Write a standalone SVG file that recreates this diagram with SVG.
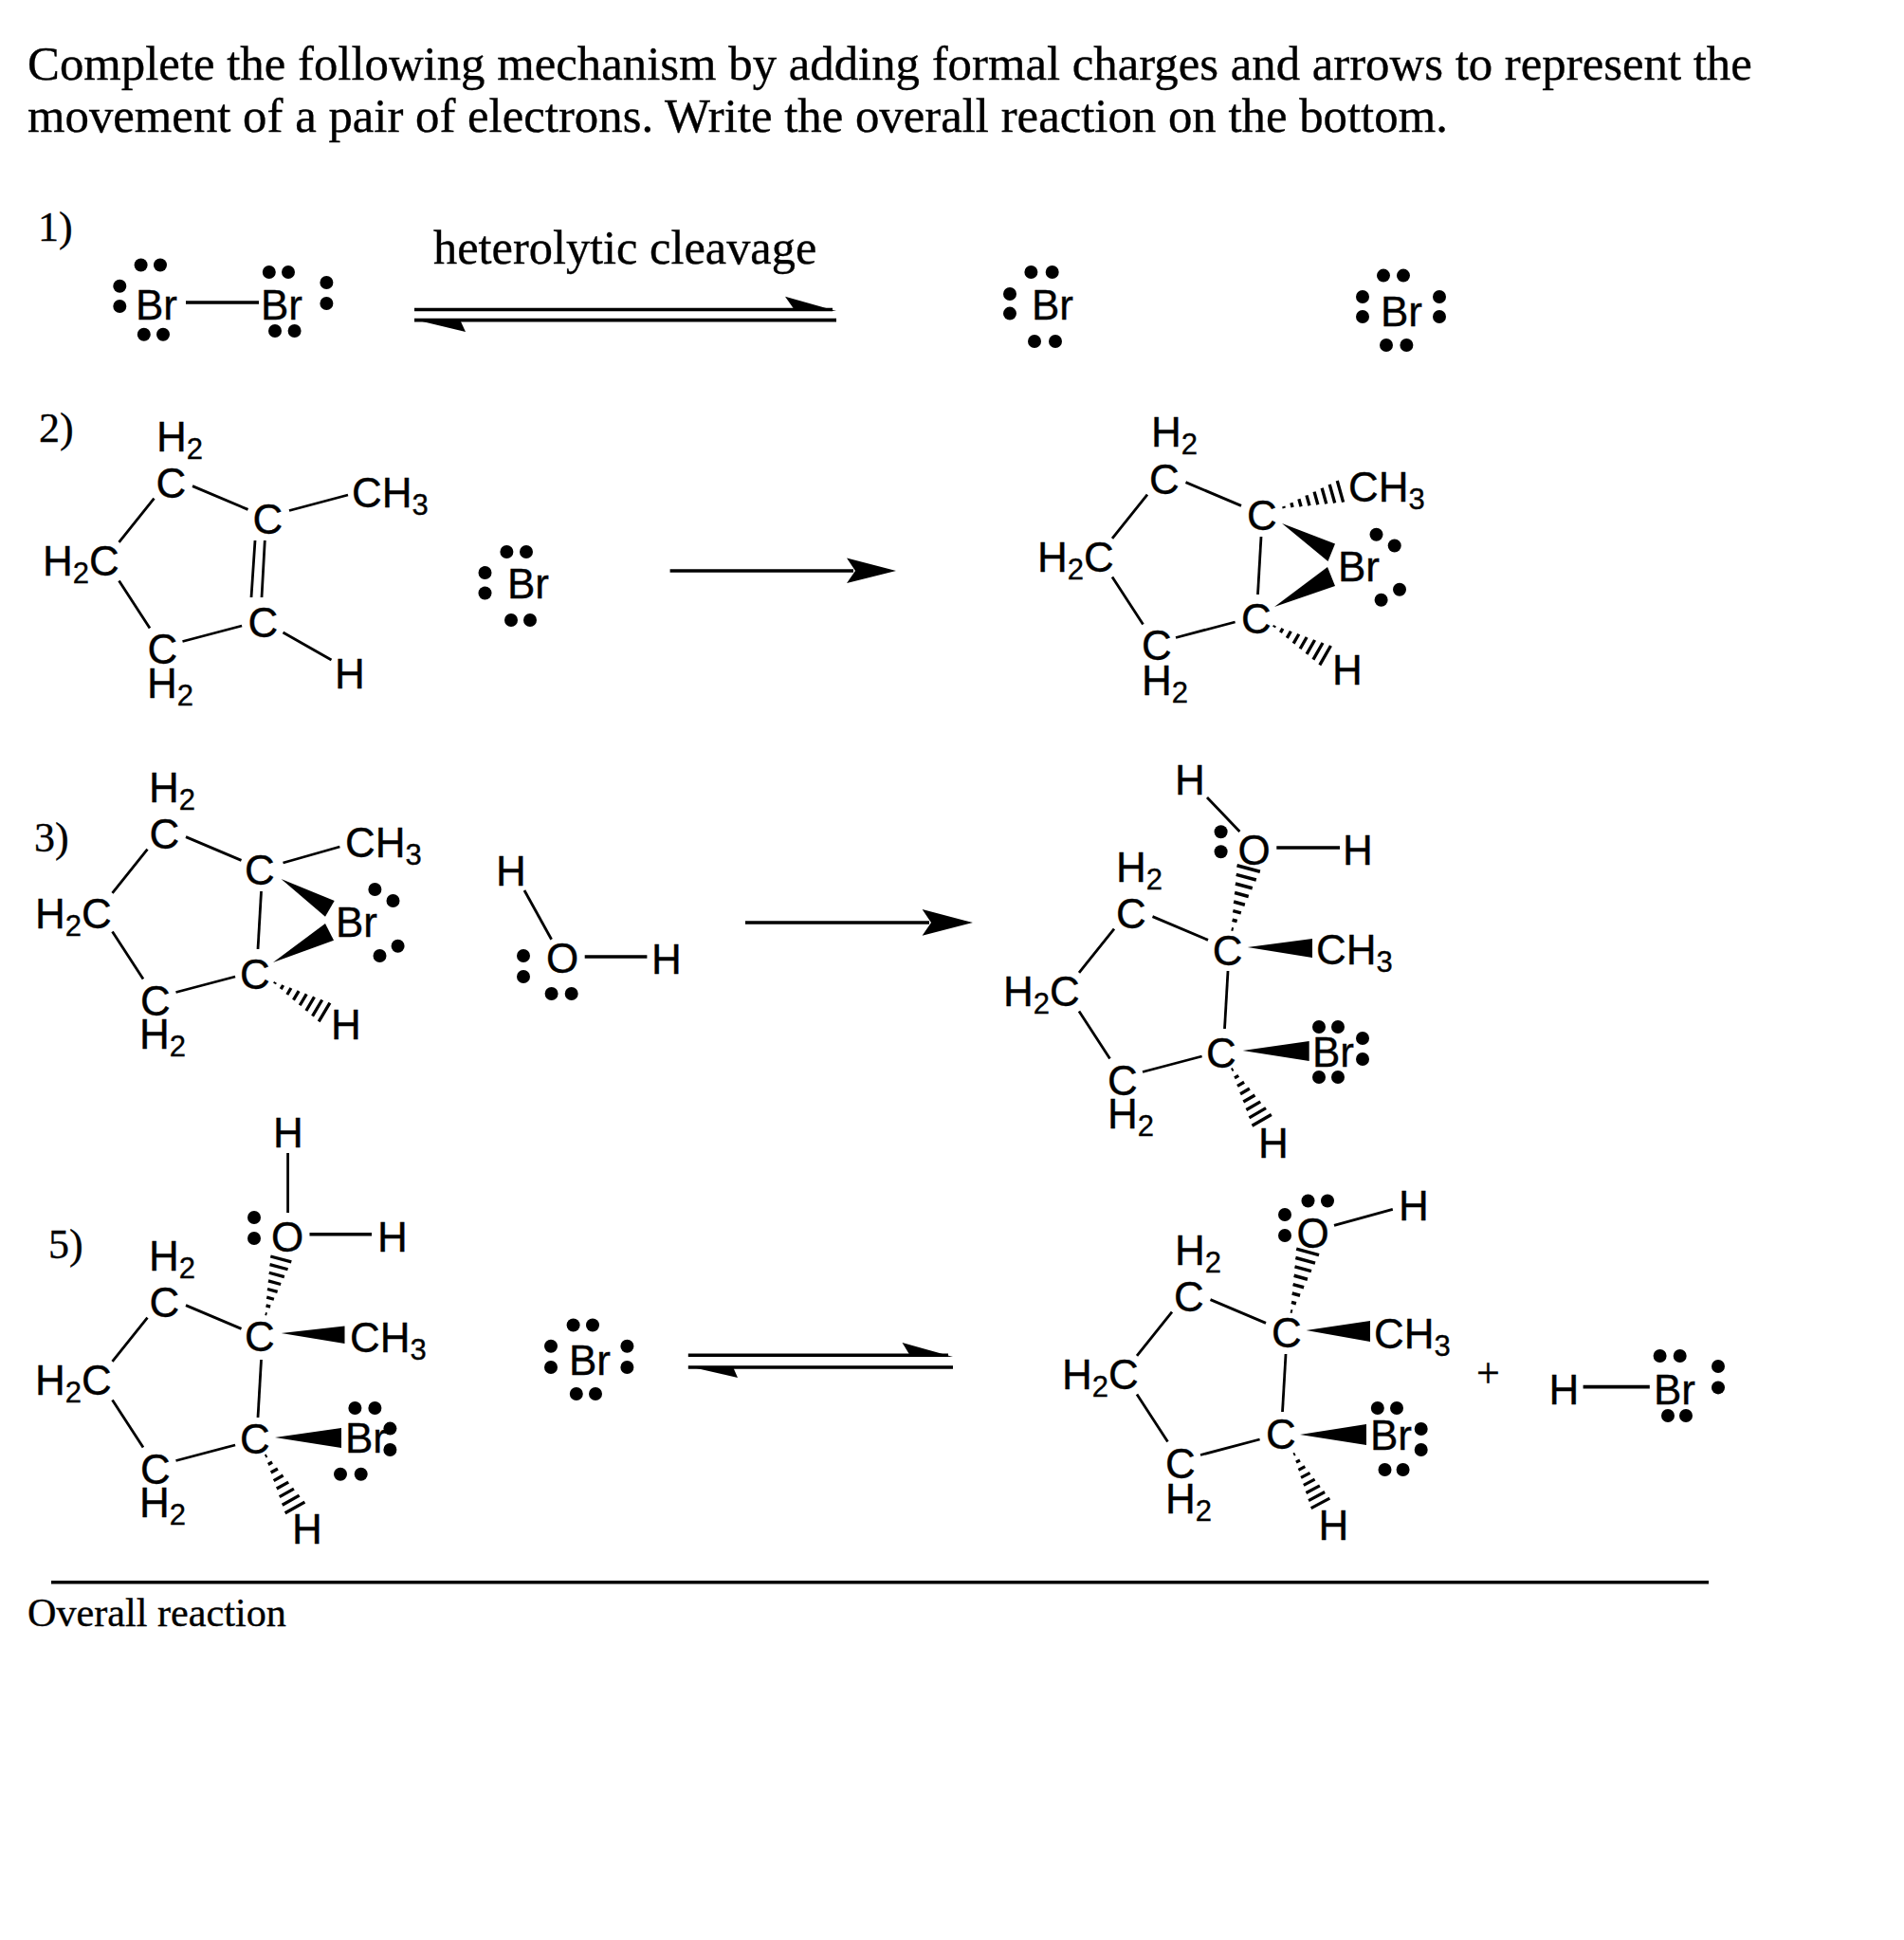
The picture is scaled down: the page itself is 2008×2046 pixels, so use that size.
<svg xmlns="http://www.w3.org/2000/svg" width="2008" height="2046" viewBox="0 0 2008 2046">
<style>
text{fill:#000;stroke:#000;stroke-width:.35}
.a{font-family:"Liberation Sans",Arial,sans-serif;font-size:44px}
.m{text-anchor:middle}
.s{font-size:31px}
.t{font-family:"Liberation Serif","Times New Roman",serif;font-size:50.8px}
.n{font-family:"Liberation Serif","Times New Roman",serif;font-size:44px}
.b{stroke:#000;stroke-width:2.8;fill:none}
.h{stroke:#000;stroke-width:3.6;fill:none}
.r{stroke:#000;stroke-width:3.4;fill:none}
.w{fill:#000;stroke:none}
.d{fill:#000}
</style>
<defs>
<g id="ring">
<path class="b" d="M22.5 2.6L81 27.4M-18 15.6L-55 61.8M-55 102.5L-22.5 152.5M12 166.5L74.6 150"/>
</g>
<path id="bond-e" class="b" d="M102 60L98.5 121"/>
<path id="hash" class="r" d="M0 -1V1M9 -2.5V2.5M18 -4.2V4.2M27 -5.8V5.8M36 -7.2V7.2M45 -8.8V8.8M54 -10.4V10.4M63 -12V12"/>
</defs>
<rect width="2008" height="2046" fill="#fff"/>

<g id="heading">
<text class="t" x="29" y="84">Complete the following mechanism by adding formal charges and arrows to represent the</text>
<text class="t" x="29" y="139">movement of a pair of electrons. Write the overall reaction on the bottom.</text>
<text class="n" x="40" y="254">1)</text>
<text class="n" x="41" y="466">2)</text>
<text class="n" x="36" y="898">3)</text>
<text class="n" x="51" y="1327">5)</text>
<text class="t" x="457" y="278" style="font-size:50.4px">heterolytic cleavage</text>
<text class="n" x="29" y="1715" style="font-size:42.2px">Overall reaction</text>
<text class="n m" x="1569.5" y="1463">+</text>
</g>

<g id="connectors">
<!-- ring bonds -->
<use href="#ring" transform="translate(180.5 510)"/>
<use href="#ring" transform="translate(1228 506)"/>
<use href="#bond-e" transform="translate(1228 506)"/>
<use href="#ring" transform="translate(173.5 880)"/>
<use href="#bond-e" transform="translate(173.5 880)"/>
<use href="#ring" transform="translate(1193 964)"/>
<use href="#bond-e" transform="translate(1193 964)"/>
<use href="#ring" transform="translate(173.5 1374)"/>
<use href="#bond-e" transform="translate(173.5 1374)"/>
<use href="#ring" transform="translate(1254 1368)"/>
<use href="#bond-e" transform="translate(1254 1368)"/>
<!-- single / double bonds -->
<path class="h" d="M196 319H273"/>
<path class="b" d="M279.3 570L276 630M269 570L265 630M305 538.5L367 522M298.5 667L349.5 696"/>
<path class="b" d="M298.5 910L358.4 893"/>
<path class="b" d="M553 939L581.6 990.7"/>
<path class="h" d="M616.7 1009H682.4M1346.3 894H1413M326.5 1301.7H392M1669.6 1462.6H1739.8"/>
<path class="b" d="M1273 841L1307.4 877M303.6 1216V1279M1407 1292.4L1468.8 1275.4"/>
<!-- wedges -->
<polygon class="w" points="1352,552 1408,573.6 1400.5,592"/>
<polygon class="w" points="1344,640 1408,618 1400,598"/>
<polygon class="w" points="296.5,927 352.7,950 343,966.7"/>
<polygon class="w" points="288,1015 352,991.7 343,974"/>
<polygon class="w" points="1315.7,999 1384,990 1384,1010"/>
<polygon class="w" points="1310.6,1108 1380.7,1098 1380.7,1119"/>
<polygon class="w" points="296.6,1406 363.5,1398.6 363.5,1417"/>
<polygon class="w" points="290,1516 360,1506 360,1527"/>
<polygon class="w" points="1377.5,1403 1445,1393 1445,1415"/>
<polygon class="w" points="1371,1513 1441,1502 1441,1524"/>
<!-- hashes -->
<use href="#hash" transform="translate(1354 535) rotate(-15.7) scale(.98)"/>
<use href="#hash" transform="translate(1344 660.6) rotate(29.7) scale(.98)"/>
<use href="#hash" transform="translate(290 1036.7) rotate(30.6) scale(.96)"/>
<use href="#hash" transform="translate(1299.7 980) rotate(-75.1) scale(1.05)"/>
<use href="#hash" transform="translate(1299.7 1128) rotate(59.9) scale(.98)"/>
<use href="#hash" transform="translate(280.6 1385.7) rotate(-74.8) scale(.95)"/>
<use href="#hash" transform="translate(280.6 1535.5) rotate(60.8) scale(.99)"/>
<use href="#hash" transform="translate(1362 1383) rotate(-74.7) scale(1.03)"/>
<use href="#hash" transform="translate(1365 1533.7) rotate(62) scale(.93)"/>
<!-- reaction arrows -->
<path class="h" d="M437 326.5H878M437 337.6H882"/>
<polygon class="w" points="882,328 828,312.7 838,327"/>
<polygon class="w" points="437,337 491,350 485,337"/>
<path class="h" d="M706.6 602H900"/>
<polygon class="w" points="945,602 893,588.5 902,602 893,615"/>
<path class="h" d="M786 973H980"/>
<polygon class="w" points="1026,973 972.6,959 982,973 972.6,986.7"/>
<path class="h" d="M725.8 1429.3H1000M725.8 1442H1005"/>
<polygon class="w" points="1005,1431 951.5,1416 960,1430"/>
<polygon class="w" points="728,1441.5 778,1453 773,1441.5"/>
<path class="h" d="M54 1668.7H1802"/>
</g>

<g id="br2-1">
<text class="a" x="143" y="337">Br</text>
<circle class="d" cx="148.6" cy="279.5" r="7"/><circle class="d" cx="169" cy="279.5" r="7"/>
<circle class="d" cx="126.3" cy="301.7" r="7"/><circle class="d" cx="126.3" cy="323" r="7"/>
<circle class="d" cx="151.8" cy="352.8" r="7"/><circle class="d" cx="172" cy="352.8" r="7"/>
</g>
<g id="br2-2">
<text class="a" x="275" y="337">Br</text>
<circle class="d" cx="283.8" cy="287" r="7"/><circle class="d" cx="304" cy="287" r="7"/>
<circle class="d" cx="344.4" cy="298" r="7"/><circle class="d" cx="344.4" cy="320" r="7"/>
<circle class="d" cx="290" cy="349" r="7"/><circle class="d" cx="310.6" cy="349" r="7"/>
</g>
<g id="br-cation">
<text class="a" x="1088" y="337">Br</text>
<circle class="d" cx="1087.4" cy="287" r="7"/><circle class="d" cx="1109.7" cy="287" r="7"/>
<circle class="d" cx="1065" cy="310" r="7"/><circle class="d" cx="1065" cy="330.6" r="7"/>
<circle class="d" cx="1091" cy="360" r="7"/><circle class="d" cx="1113" cy="360" r="7"/>
</g>
<g id="br-anion">
<text class="a" x="1456" y="343.5">Br</text>
<circle class="d" cx="1459" cy="290.6" r="7"/><circle class="d" cx="1480" cy="290.6" r="7"/>
<circle class="d" cx="1437" cy="313" r="7"/><circle class="d" cx="1437" cy="334" r="7"/>
<circle class="d" cx="1518" cy="313" r="7"/><circle class="d" cx="1518" cy="334" r="7"/>
<circle class="d" cx="1462" cy="364" r="7"/><circle class="d" cx="1483.4" cy="364" r="7"/>
</g>

<g id="alkene">
<text class="a" x="165" y="476">H<tspan class="s" dy="8">2</tspan></text>
<text class="a m" x="180.5" y="525">C</text>
<text class="a" x="45" y="607">H<tspan class="s" dy="8">2</tspan><tspan dy="-8">C</tspan></text>
<text class="a m" x="282.5" y="563">C</text>
<text class="a m" x="277.5" y="672">C</text>
<text class="a m" x="171.5" y="700">C</text>
<text class="a" x="155" y="736">H<tspan class="s" dy="8">2</tspan></text>
<text class="a" x="371" y="535">CH<tspan class="s" dy="8">3</tspan></text>
<text class="a" x="353" y="726">H</text>
</g>
<g id="br-2">
<text class="a" x="535" y="631">Br</text>
<circle class="d" cx="534.4" cy="582" r="7"/><circle class="d" cx="555" cy="582" r="7"/>
<circle class="d" cx="511.5" cy="604" r="7"/><circle class="d" cx="511.5" cy="625.5" r="7"/>
<circle class="d" cx="539" cy="654" r="7"/><circle class="d" cx="559" cy="654" r="7"/>
</g>

<g id="bromonium-2">
<text class="a" x="1214" y="471">H<tspan class="s" dy="8">2</tspan></text>
<text class="a m" x="1228" y="521">C</text>
<text class="a" x="1094" y="603">H<tspan class="s" dy="8">2</tspan><tspan dy="-8">C</tspan></text>
<text class="a m" x="1331" y="559">C</text>
<text class="a m" x="1325" y="668">C</text>
<text class="a m" x="1220" y="696">C</text>
<text class="a" x="1204" y="733">H<tspan class="s" dy="8">2</tspan></text>
<text class="a" x="1422" y="529">CH<tspan class="s" dy="8">3</tspan></text>
<text class="a" x="1411" y="612.5">Br</text>
<text class="a" x="1405" y="721.6">H</text>
<circle class="d" cx="1451.5" cy="563.7" r="7"/><circle class="d" cx="1470.7" cy="575.5" r="7"/>
<circle class="d" cx="1476" cy="621.7" r="7"/><circle class="d" cx="1456.6" cy="632.8" r="7"/>
</g>

<g id="bromonium-3">
<text class="a" x="157" y="846">H<tspan class="s" dy="8">2</tspan></text>
<text class="a m" x="173.5" y="895">C</text>
<text class="a" x="37" y="979">H<tspan class="s" dy="8">2</tspan><tspan dy="-8">C</tspan></text>
<text class="a m" x="274" y="933">C</text>
<text class="a m" x="269" y="1043">C</text>
<text class="a m" x="164" y="1071">C</text>
<text class="a" x="147" y="1106">H<tspan class="s" dy="8">2</tspan></text>
<text class="a" x="364" y="904">CH<tspan class="s" dy="8">3</tspan></text>
<text class="a" x="354" y="988">Br</text>
<text class="a" x="349" y="1096">H</text>
<circle class="d" cx="395.4" cy="938" r="7"/><circle class="d" cx="414.5" cy="950" r="7"/>
<circle class="d" cx="419.6" cy="997.7" r="7"/><circle class="d" cx="400.5" cy="1008" r="7"/>
</g>
<g id="water">
<text class="a" x="523" y="934">H</text>
<text class="a m" x="593" y="1026">O</text>
<text class="a" x="687" y="1026.7">H</text>
<circle class="d" cx="552" cy="1008" r="7"/><circle class="d" cx="552" cy="1030" r="7"/>
<circle class="d" cx="581.6" cy="1048" r="7"/><circle class="d" cx="602.7" cy="1048" r="7"/>
</g>

<g id="oxonium-3">
<text class="a" x="1177" y="930">H<tspan class="s" dy="8">2</tspan></text>
<text class="a m" x="1193" y="979">C</text>
<text class="a" x="1058" y="1061">H<tspan class="s" dy="8">2</tspan><tspan dy="-8">C</tspan></text>
<text class="a m" x="1294.6" y="1018">C</text>
<text class="a m" x="1288" y="1126">C</text>
<text class="a m" x="1184" y="1155">C</text>
<text class="a" x="1168" y="1190">H<tspan class="s" dy="8">2</tspan></text>
<text class="a" x="1239" y="838">H</text>
<text class="a m" x="1322.7" y="912">O</text>
<text class="a" x="1416" y="912">H</text>
<text class="a" x="1388" y="1017">CH<tspan class="s" dy="8">3</tspan></text>
<text class="a" x="1384" y="1125">Br</text>
<text class="a" x="1327" y="1220.7">H</text>
<circle class="d" cx="1287.6" cy="877.3" r="7"/><circle class="d" cx="1287.6" cy="898.3" r="7"/>
<circle class="d" cx="1391" cy="1083" r="7"/><circle class="d" cx="1411" cy="1083" r="7"/>
<circle class="d" cx="1437" cy="1095" r="7"/><circle class="d" cx="1437" cy="1117" r="7"/>
<circle class="d" cx="1391" cy="1136" r="7"/><circle class="d" cx="1411" cy="1136" r="7"/>
</g>

<g id="oxonium-5">
<text class="a" x="157" y="1340">H<tspan class="s" dy="8">2</tspan></text>
<text class="a m" x="173.5" y="1389">C</text>
<text class="a" x="37" y="1471">H<tspan class="s" dy="8">2</tspan><tspan dy="-8">C</tspan></text>
<text class="a m" x="274" y="1425">C</text>
<text class="a m" x="269" y="1533">C</text>
<text class="a m" x="164" y="1565">C</text>
<text class="a" x="147" y="1600">H<tspan class="s" dy="8">2</tspan></text>
<text class="a" x="288" y="1210">H</text>
<text class="a m" x="303" y="1320">O</text>
<text class="a" x="398" y="1320">H</text>
<text class="a" x="369" y="1425.6">CH<tspan class="s" dy="8">3</tspan></text>
<text class="a" x="364" y="1532">Br</text>
<text class="a" x="308" y="1628">H</text>
<circle class="d" cx="268" cy="1284" r="7"/><circle class="d" cx="268" cy="1306" r="7"/>
<circle class="d" cx="374.4" cy="1485" r="7"/><circle class="d" cx="395.4" cy="1485" r="7"/>
<circle class="d" cx="411.4" cy="1506.6" r="7"/><circle class="d" cx="411.4" cy="1529" r="7"/>
<circle class="d" cx="359" cy="1554.7" r="7"/><circle class="d" cx="380.7" cy="1554.7" r="7"/>
</g>
<g id="br-5">
<text class="a" x="600" y="1450.4">Br</text>
<circle class="d" cx="604.6" cy="1397.5" r="7"/><circle class="d" cx="625" cy="1397.5" r="7"/>
<circle class="d" cx="581" cy="1419.7" r="7"/><circle class="d" cx="581" cy="1442" r="7"/>
<circle class="d" cx="661.4" cy="1419.7" r="7"/><circle class="d" cx="661.4" cy="1442" r="7"/>
<circle class="d" cx="607.8" cy="1470" r="7"/><circle class="d" cx="628" cy="1470" r="7"/>
</g>

<g id="alcohol">
<text class="a" x="1239" y="1334">H<tspan class="s" dy="8">2</tspan></text>
<text class="a m" x="1254" y="1383">C</text>
<text class="a" x="1120" y="1465">H<tspan class="s" dy="8">2</tspan><tspan dy="-8">C</tspan></text>
<text class="a m" x="1357" y="1421">C</text>
<text class="a m" x="1351" y="1528">C</text>
<text class="a m" x="1245" y="1559">C</text>
<text class="a" x="1229" y="1596">H<tspan class="s" dy="8">2</tspan></text>
<text class="a m" x="1384.6" y="1316">O</text>
<text class="a" x="1475" y="1286.5">H</text>
<text class="a" x="1449" y="1422">CH<tspan class="s" dy="8">3</tspan></text>
<text class="a" x="1445" y="1529">Br</text>
<text class="a" x="1390.5" y="1624">H</text>
<circle class="d" cx="1379.5" cy="1266.5" r="7"/><circle class="d" cx="1400" cy="1266.5" r="7"/>
<circle class="d" cx="1355" cy="1281" r="7"/><circle class="d" cx="1355" cy="1303" r="7"/>
<circle class="d" cx="1452.8" cy="1485" r="7"/><circle class="d" cx="1473" cy="1485" r="7"/>
<circle class="d" cx="1498.7" cy="1507" r="7"/><circle class="d" cx="1498.7" cy="1529" r="7"/>
<circle class="d" cx="1460.5" cy="1550" r="7"/><circle class="d" cx="1479.6" cy="1550" r="7"/>
</g>
<g id="hbr">
<text class="a" x="1633.5" y="1481">H</text>
<text class="a" x="1744" y="1481">Br</text>
<circle class="d" cx="1750.6" cy="1430" r="7"/><circle class="d" cx="1771.7" cy="1430" r="7"/>
<circle class="d" cx="1812" cy="1441" r="7"/><circle class="d" cx="1812" cy="1463.4" r="7"/>
<circle class="d" cx="1759" cy="1493" r="7"/><circle class="d" cx="1778" cy="1493" r="7"/>
</g>
</svg>
